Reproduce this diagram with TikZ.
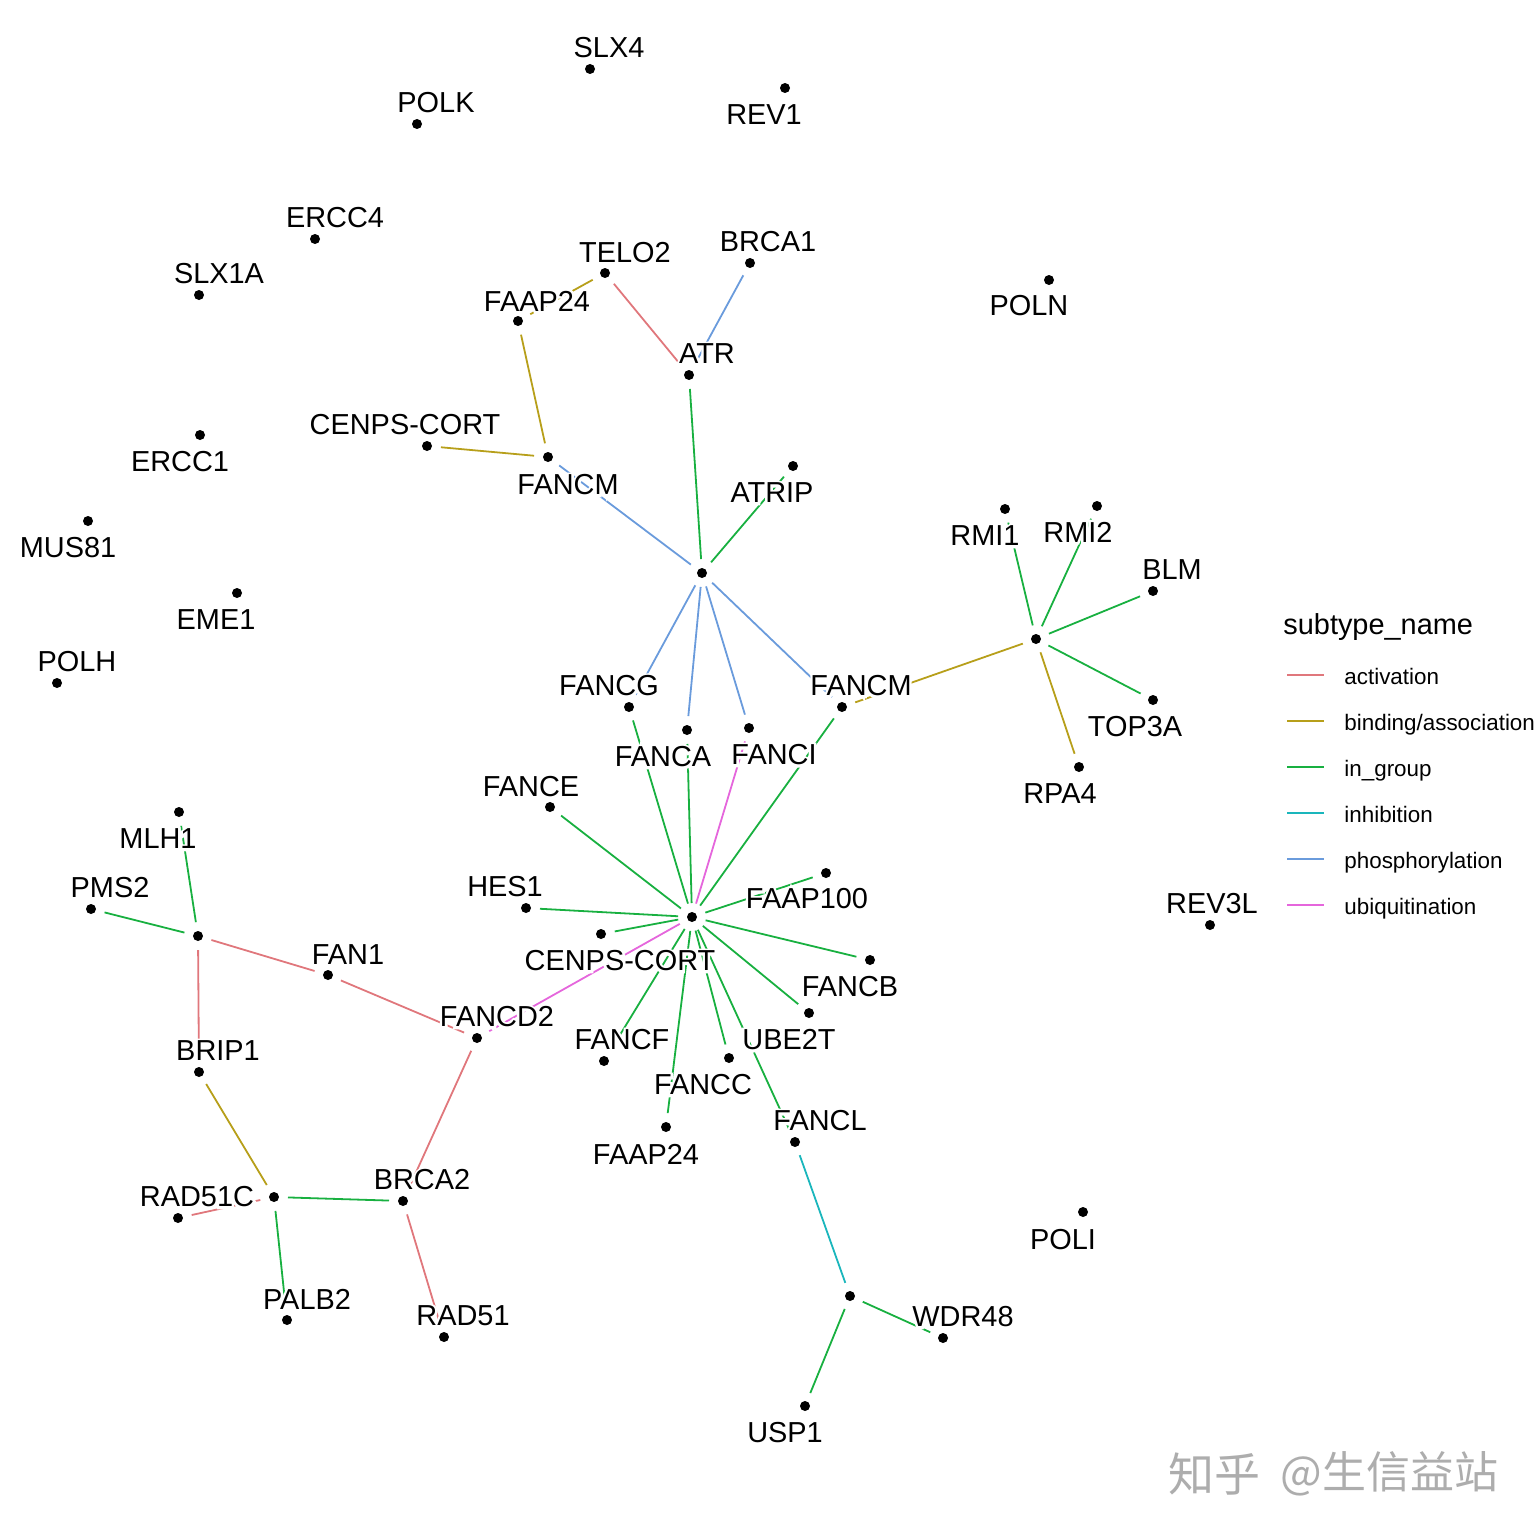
\documentclass[tikz,border=0pt]{standalone}
\usepackage{fontspec}
\setmainfont{Liberation Sans}
\newfontfamily\cjkfont{Noto Sans CJK SC}
\newfontfamily\halofont[FakeBold=17]{Liberation Sans}
\newcommand{\hl}[1]{\rlap{\color{white}\halofont #1}#1}
\definecolor{activation}{HTML}{E0777C}
\definecolor{binding}{HTML}{B79F1A}
\definecolor{ingroup}{HTML}{18B040}
\definecolor{inhibition}{HTML}{1AB6BC}
\definecolor{phospho}{HTML}{6A9BDC}
\definecolor{ubiquit}{HTML}{E566DC}
\tikzset{
    gene/.style={circle,fill=black,inner sep=0pt,minimum size=5pt,outer sep=4.5pt},
    lab/.style={inner sep=0pt,yshift=-0.5pt,font=\fontsize{14.45}{16}\selectfont},
    keytext/.style={inner sep=0pt,anchor=base west,font=\fontsize{11.2}{13}\selectfont},
    act/.style={draw=activation,line width=0.9pt},
    bin/.style={draw=binding,line width=0.9pt},
    grp/.style={draw=ingroup,line width=0.9pt},
    inh/.style={draw=inhibition,line width=0.9pt},
    pho/.style={draw=phospho,line width=0.9pt},
    ubi/.style={draw=ubiquit,line width=0.9pt},
    mark text/.style={inner sep=0pt,text=black!32,font=\cjkfont\fontsize{23}{26}\selectfont}
}
\begin{document}
\begin{tikzpicture}[x=0.5pt,y=-0.5pt]
            \useasboundingbox (0,0) rectangle (1536,1536);
            \node[gene] (slx4) at (590,69) {};
            \node[gene] (polk) at (417,124) {};
            \node[gene] (rev1) at (785,88) {};
            \node[gene] (ercc4) at (315,239) {};
            \node[gene] (slx1a) at (199,295) {};
            \node[gene] (poln) at (1049,280) {};
            \node[gene] (ercc1) at (200,435) {};
            \node[gene] (mus81) at (88,521) {};
            \node[gene] (eme1) at (237,593) {};
            \node[gene] (polh) at (57,683) {};
            \node[gene] (rev3l) at (1210,925) {};
            \node[gene] (poli) at (1083,1212) {};
            \node[gene] (telo2) at (605,273) {};
            \node[gene] (brca1) at (750,263) {};
            \node[gene] (faap24a) at (518,321) {};
            \node[gene] (atr) at (689,375) {};
            \node[gene] (cenpsa) at (427,446) {};
            \node[gene] (fancma) at (548,457) {};
            \node[gene] (atrip) at (793,466) {};
            \node[gene] (huba) at (702,573) {};
            \node[gene] (rmi1) at (1005,509) {};
            \node[gene] (rmi2) at (1097,506) {};
            \node[gene] (blm) at (1153,591) {};
            \node[gene] (hubb) at (1036,639) {};
            \node[gene] (top3a) at (1153,700) {};
            \node[gene] (rpa4) at (1079,767) {};
            \node[gene] (fancg) at (629,707) {};
            \node[gene] (fanca) at (687,730) {};
            \node[gene] (fanci) at (749,728) {};
            \node[gene] (fancmb) at (842,707) {};
            \node[gene] (fance) at (550,807) {};
            \node[gene] (hes1) at (526,908) {};
            \node[gene] (cenpsb) at (601,934) {};
            \node[gene] (hubc) at (692,917) {};
            \node[gene] (faap100) at (826,873) {};
            \node[gene] (fancb) at (870,960) {};
            \node[gene] (ube2t) at (809,1013) {};
            \node[gene] (fancf) at (604,1061) {};
            \node[gene] (fancc) at (729,1058) {};
            \node[gene] (faap24b) at (666,1127) {};
            \node[gene] (fancl) at (795,1142) {};
            \node[gene] (fancd2) at (477,1038) {};
            \node[gene] (fan1) at (328,975) {};
            \node[gene] (hubd) at (198,936) {};
            \node[gene] (mlh1) at (179,812) {};
            \node[gene] (pms2) at (91,909) {};
            \node[gene] (brip1) at (199,1072) {};
            \node[gene] (hube) at (274,1197) {};
            \node[gene] (rad51c) at (178,1218) {};
            \node[gene] (palb2) at (287,1320) {};
            \node[gene] (brca2) at (403,1201) {};
            \node[gene] (rad51) at (444,1337) {};
            \node[gene] (hubf) at (850,1296) {};
            \node[gene] (wdr48) at (943,1338) {};
            \node[gene] (usp1) at (805,1406) {};

            \draw[act] (telo2) -- (atr);
            \draw[bin] (telo2) -- (faap24a);
            \draw[pho] (brca1) -- (atr);
            \draw[bin] (faap24a) -- (fancma);
            \draw[bin] (cenpsa) -- (fancma);
            \draw[pho] (fancma) -- (huba);
            \draw[grp] (atr) -- (huba);
            \draw[grp] (atrip) -- (huba);
            \draw[pho] (huba) -- (fancg);
            \draw[pho] (huba) -- (fanca);
            \draw[pho] (huba) -- (fanci);
            \draw[pho] (huba) -- (fancmb);
            \draw[bin] (fancmb) -- (hubb);
            \draw[grp] (rmi1) -- (hubb);
            \draw[grp] (rmi2) -- (hubb);
            \draw[grp] (blm) -- (hubb);
            \draw[grp] (top3a) -- (hubb);
            \draw[bin] (rpa4) -- (hubb);
            \draw[grp] (fancg) -- (hubc);
            \draw[grp] (fanca) -- (hubc);
            \draw[ubi] (fanci) -- (hubc);
            \draw[grp] (fancmb) -- (hubc);
            \draw[grp] (fance) -- (hubc);
            \draw[grp] (hes1) -- (hubc);
            \draw[grp] (cenpsb) -- (hubc);
            \draw[grp] (faap100) -- (hubc);
            \draw[grp] (fancb) -- (hubc);
            \draw[grp] (ube2t) -- (hubc);
            \draw[grp] (fancf) -- (hubc);
            \draw[grp] (fancc) -- (hubc);
            \draw[grp] (faap24b) -- (hubc);
            \draw[grp] (fancl) -- (hubc);
            \draw[ubi] (fancd2) -- (hubc);
            \draw[inh] (fancl) -- (hubf);
            \draw[grp] (hubf) -- (wdr48);
            \draw[grp] (hubf) -- (usp1);
            \draw[act] (fancd2) -- (fan1);
            \draw[act] (fan1) -- (hubd);
            \draw[grp] (mlh1) -- (hubd);
            \draw[grp] (pms2) -- (hubd);
            \draw[act] (hubd) -- (brip1);
            \draw[bin] (brip1) -- (hube);
            \draw[act] (rad51c) -- (hube);
            \draw[grp] (hube) -- (palb2);
            \draw[grp] (hube) -- (brca2);
            \draw[act] (brca2) -- (rad51);
            \draw[act] (brca2) -- (fancd2);

            \node[lab] (l-slx4) at (609,47) {\hl{SLX4}};
            \node[lab] (l-polk) at (436,102) {\hl{POLK}};
            \node[lab] (l-rev1) at (764,114) {\hl{REV1}};
            \node[lab] (l-ercc4) at (335,217) {\hl{ERCC4}};
            \node[lab] (l-slx1a) at (219,273) {\hl{SLX1A}};
            \node[lab] (l-telo2) at (625,252) {\hl{TELO2}};
            \node[lab] (l-brca1) at (768,241) {\hl{BRCA1}};
            \node[lab] (l-faap24a) at (537,300) {\hl{FAAP24}};
            \node[lab] (l-atr) at (707,353) {\hl{ATR}};
            \node[lab] (l-poln) at (1029,305) {\hl{POLN}};
            \node[lab] (l-cenpsa) at (405,424) {\hl{CENPS-CORT}};
            \node[lab] (l-ercc1) at (180,461) {\hl{ERCC1}};
            \node[lab] (l-fancma) at (568,484) {\hl{FANCM}};
            \node[lab] (l-atrip) at (772,492) {\hl{ATRIP}};
            \node[lab] (l-mus81) at (68,547) {\hl{MUS81}};
            \node[lab] (l-rmi1) at (985,535) {\hl{RMI1}};
            \node[lab] (l-rmi2) at (1078,531) {\hl{RMI2}};
            \node[lab] (l-blm) at (1172,569) {\hl{BLM}};
            \node[lab] (l-eme1) at (216,619) {\hl{EME1}};
            \node[lab] (l-polh) at (77,661) {\hl{POLH}};
            \node[lab] (l-fancg) at (609,685) {\hl{FANCG}};
            \node[lab] (l-fancmb) at (861,685) {\hl{FANCM}};
            \node[lab] (l-top3a) at (1135,726) {\hl{TOP3A}};
            \node[lab] (l-fanca) at (663,756) {\hl{FANCA}};
            \node[lab] (l-fanci) at (774,754) {\hl{FANCI}};
            \node[lab] (l-fance) at (531,786) {\hl{FANCE}};
            \node[lab] (l-rpa4) at (1060,793) {\hl{RPA4}};
            \node[lab] (l-mlh1) at (158,838) {\hl{MLH1}};
            \node[lab] (l-pms2) at (110,887) {\hl{PMS2}};
            \node[lab] (l-hes1) at (505,886) {\hl{HES1}};
            \node[lab] (l-faap100) at (807,898) {\hl{FAAP100}};
            \node[lab] (l-rev3l) at (1212,903) {\hl{REV3L}};
            \node[lab] (l-fan1) at (348,954) {\hl{FAN1}};
            \node[lab] (l-cenpsb) at (620,960) {\hl{CENPS-CORT}};
            \node[lab] (l-fancb) at (850,986) {\hl{FANCB}};
            \node[lab] (l-fancd2) at (497,1016) {\hl{FANCD2}};
            \node[lab] (l-fancf) at (622,1039) {\hl{FANCF}};
            \node[lab] (l-ube2t) at (789,1039) {\hl{UBE2T}};
            \node[lab] (l-brip1) at (218,1050) {\hl{BRIP1}};
            \node[lab] (l-fancc) at (703,1084) {\hl{FANCC}};
            \node[lab] (l-fancl) at (820,1120) {\hl{FANCL}};
            \node[lab] (l-faap24b) at (646,1153) {\hl{FAAP24}};
            \node[lab] (l-brca2) at (422,1179) {\hl{BRCA2}};
            \node[lab] (l-rad51c) at (197,1196) {\hl{RAD51C}};
            \node[lab] (l-poli) at (1063,1239) {\hl{POLI}};
            \node[lab] (l-palb2) at (307,1298) {\hl{PALB2}};
            \node[lab] (l-rad51) at (463,1315) {\hl{RAD51}};
            \node[lab] (l-wdr48) at (963,1316) {\hl{WDR48}};
            \node[lab] (l-usp1) at (785,1432) {\hl{USP1}};

            \node[lab,anchor=base west] (title) at (1283,633) {subtype\_name};
            \coordinate (ka) at (1287,675);
            \coordinate (kb) at (1324,675);
            \coordinate (kc) at (1287,721);
            \coordinate (kd) at (1324,721);
            \coordinate (ke) at (1287,767);
            \coordinate (kf) at (1324,767);
            \coordinate (kg) at (1287,813);
            \coordinate (kh) at (1324,813);
            \coordinate (ki) at (1287,859);
            \coordinate (kj) at (1324,859);
            \coordinate (kk) at (1287,905);
            \coordinate (kl) at (1324,905);
            \draw[act] (ka) -- (kb);
            \draw[bin] (kc) -- (kd);
            \draw[grp] (ke) -- (kf);
            \draw[inh] (kg) -- (kh);
            \draw[pho] (ki) -- (kj);
            \draw[ubi] (kk) -- (kl);
            \node[keytext] (t-act) at (1344,684) {activation};
            \node[keytext] (t-bin) at (1344,730) {binding/association};
            \node[keytext] (t-grp) at (1344,776) {in\_group};
            \node[keytext] (t-inh) at (1344,822) {inhibition};
            \node[keytext] (t-pho) at (1344,868) {phosphorylation};
            \node[keytext] (t-ubi) at (1344,914) {ubiquitination};

            \node[mark text] (m-zhihu) at (1214,1474) {知乎};
            \node[mark text,font=\cjkfont\fontsize{22}{26}\selectfont] (m-site) at (1389.5,1474) {@生信益站};
        \end{tikzpicture}
\end{document}
